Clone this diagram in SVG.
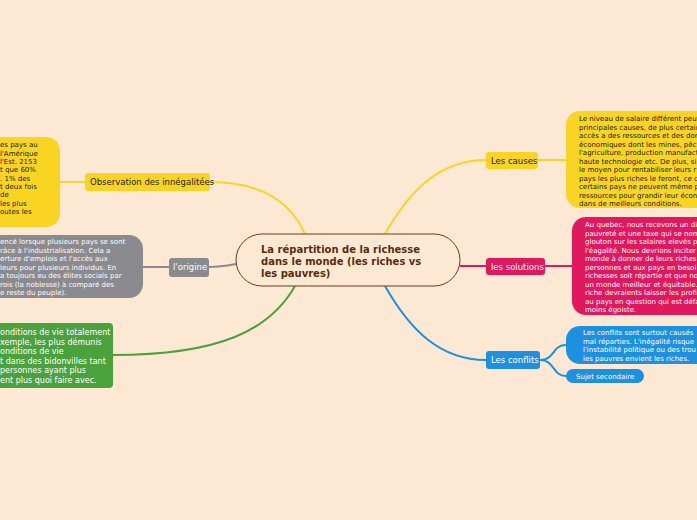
<svg xmlns="http://www.w3.org/2000/svg" width="697" height="520" viewBox="0 0 697 520">
<style>
text{font-family:"DejaVu Sans","Liberation Sans",sans-serif}
.s{font-size:7px}
.l{font-size:8.5px}
.c{fill:none;stroke-width:2}
</style>
<rect width="697" height="520" fill="#fde9d3"/>
<g id="connectors">
<path class="c" d="M305,234 C290,200 260,182 210,182" stroke="#f9d423"/>
<path class="c" d="M85,182 L60,182" stroke="#f9d423"/>
<path class="c" d="M236,264 C225,266 220,267 209,267" stroke="#8a8a8f"/>
<path class="c" d="M169,267 L143,267" stroke="#8a8a8f"/>
<path class="c" d="M295,286 C270,330 220,355 113,355" stroke="#4aa23c"/>
<path class="c" d="M385,234 C410,190 440,160 486,160" stroke="#f9d423"/>
<path class="c" d="M538,160 L566,160" stroke="#f9d423"/>
<path class="c" d="M460,266 L486,266" stroke="#e0185e"/>
<path class="c" d="M545,266 L572,266" stroke="#e0185e"/>
<path class="c" d="M385,286 C410,330 440,360 486,360" stroke="#1e90e0"/>
<path class="c" d="M540,360 C555,360 552,345 566,345 M540,360 C555,360 552,376 566,376" stroke="#1e90e0"/>
</g>
<g id="center">
<rect x="236" y="234" width="224" height="52" rx="26" fill="#fde9d3" stroke="#6b3a1a" stroke-width="1"/>
<text x="261" y="253" font-size="10" font-weight="bold" fill="#5a2d0c">La répartition de la richesse</text>
<text x="261" y="265" font-size="10" font-weight="bold" fill="#5a2d0c">dans le monde (les riches vs</text>
<text x="261" y="277" font-size="10" font-weight="bold" fill="#5a2d0c">les pauvres)</text>
</g>
<g id="observation">
<rect x="85" y="173" width="125" height="18" rx="3" fill="#f9d423"/>
<text x="90" y="185" class="l" fill="#222">Observation des innégalitées</text>
</g>
<g id="obs-note">
<rect x="-30" y="137" width="90" height="90" rx="14" fill="#f9d423"/>
<g class="s" fill="#222"><text x="0" y="147">es pays au</text><text x="0" y="156">l'Amérique</text><text x="0" y="164">l'Est. 2153</text><text x="0" y="172">t que 60%</text><text x="0" y="181">. 1% des</text><text x="0" y="189">t deux fois</text><text x="0" y="197">de</text><text x="0" y="206">les plus</text><text x="0" y="214">outes les</text></g>
</g>
<g id="origine">
<rect x="169" y="258" width="40" height="19" rx="3" fill="#8a8a8f"/>
<text x="173" y="270" class="l" fill="#fff">l'origine</text>
</g>
<g id="origine-note">
<rect x="-30" y="235" width="173" height="63" rx="14" fill="#8a8a8f"/>
<g class="s" fill="#fff"><text x="0" y="244">encé lorsque plusieurs pays se sont</text><text x="0" y="253">râce à l'industrialisation. Cela a</text><text x="0" y="261">erture d'emplois et l'accès aux</text><text x="0" y="270">leurs pour plusieurs individus. En</text><text x="0" y="278"> a toujours eu des élites socials par</text><text x="0" y="287"> rois (la noblesse) à comparé des</text><text x="0" y="295">e reste du peuple).</text></g>
</g>
<g id="green-note">
<rect x="-30" y="323" width="143" height="65" rx="4" fill="#4aa23c"/>
<g font-size="8" fill="#fff"><text x="0" y="335">onditions de vie totalement</text><text x="0" y="345">xemple, les plus démunis</text><text x="0" y="354">onditions de vie</text><text x="0" y="364">t dans des bidonvilles tant</text><text x="0" y="373"> personnes ayant plus</text><text x="0" y="383">ent plus quoi faire avec.</text></g>
</g>
<g id="causes">
<rect x="486" y="152" width="52" height="17" rx="3" fill="#f9d423"/>
<text x="491" y="164" class="l" fill="#222">Les causes</text>
</g>
<g id="causes-note">
<rect x="566" y="111" width="160" height="97" rx="14" fill="#f9d423"/>
<g class="s" fill="#222"><text x="579" y="121">Le niveau de salaire différent peut</text><text x="579" y="130">principales causes, de plus certain</text><text x="579" y="138">accès a des ressources et des dor</text><text x="579" y="147">économiques dont les mines, pêch</text><text x="579" y="155">l'agriculture, production manufact</text><text x="579" y="164">haute technologie etc. De plus, si</text><text x="579" y="172">le moyen pour rentabiliser leurs r</text><text x="579" y="181">pays les plus riches le feront, ce c</text><text x="579" y="189">certains pays ne peuvent même p</text><text x="579" y="198">ressources pour grandir leur écon</text><text x="579" y="206">dans de meilleurs conditions.</text></g>
</g>
<g id="solutions">
<rect x="486" y="258" width="59" height="17" rx="3" fill="#e0185e"/>
<text x="491" y="270" class="l" fill="#fff">les solutions</text>
</g>
<g id="solutions-note">
<rect x="572" y="217" width="160" height="98" rx="14" fill="#e0185e"/>
<g class="s" fill="#fff"><text x="585" y="227">Au quebec, nous recevons un di</text><text x="585" y="236">pauvreté et une taxe qui se nom</text><text x="585" y="244">glouton sur les salaires elevés p</text><text x="585" y="253">l'éagalité. Nous devrions inciter</text><text x="585" y="261">monde à donner de leurs riches</text><text x="585" y="270">personnes et aux pays en besoi</text><text x="585" y="278">richesses soit répartie et que no</text><text x="585" y="287">un monde meilleur et équitable.</text><text x="585" y="295">riche devraients laisser les profi</text><text x="585" y="304">au pays en question qui est défa</text><text x="585" y="312">moins égoiste.</text></g>
</g>
<g id="conflits">
<rect x="486" y="351" width="54" height="18" rx="3" fill="#1e90e0"/>
<text x="491" y="363" class="l" fill="#fff">Les conflits</text>
</g>
<g id="conflits-note">
<rect x="566" y="326" width="160" height="38" rx="14" fill="#1e90e0"/>
<g class="s" fill="#fff"><text x="583" y="335">Les conflits sont surtout causés</text><text x="583" y="344">mal réparties. L'inégalité risque</text><text x="583" y="352">l'instabilité politique ou des trou</text><text x="583" y="361">les pauvres envient les riches.</text></g>
</g>
<g id="sujet">
<rect x="566" y="369" width="78" height="14" rx="7" fill="#1e90e0"/>
<text x="576" y="379" class="s" fill="#fff">Sujet secondaire</text>
</g>
</svg>
